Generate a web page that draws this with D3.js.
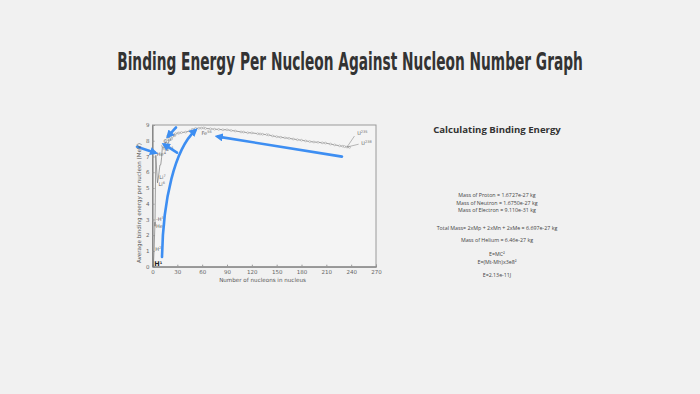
<!DOCTYPE html>
<html>
<head>
<meta charset="UTF-8">
<title>Binding Energy</title>
<script src="https://cdn.jsdelivr.net/npm/d3@7"></script>
<style>
body { margin:0; background:#f1f1f1; }
svg { display:block; }
</style>
</head>
<body>
<div id="chart"></div>
<script>
// mass number and binding energy per nucleon (MeV)
var massNumbers = [1,2,3,3,4,6,7,9,10,11,12,14,16,19,20,23,24,27,28,31,32,35,40,45,48,52,56,59,62,64,70,75,80,85,90,95,100,107,110,115,120,127,130,133,138,140,145,150,155,160,165,170,175,180,185,190,195,200,205,209,215,220,226,230,232,235,238];
var bindingEnergy = [0,1.11,2.83,2.57,7.07,5.33,5.61,6.46,6.48,6.93,7.68,7.48,7.98,7.78,8.03,8.11,8.26,8.33,8.45,8.48,8.49,8.52,8.55,8.62,8.72,8.78,8.79,8.80,8.82,8.78,8.76,8.73,8.72,8.70,8.70,8.65,8.62,8.56,8.55,8.51,8.50,8.45,8.43,8.41,8.39,8.37,8.31,8.26,8.22,8.19,8.15,8.11,8.07,8.03,7.99,7.95,7.92,7.90,7.87,7.85,7.79,7.74,7.68,7.65,7.63,7.60,7.58];

var xTicks = [0,30,60,90,120,150,180,210,240,270];
var yTicks = [0,1,2,3,4,5,6,7,8,9];

// nuclide labels: [A, MeV, base, superscript]
var nuclideLabels = [
    [1, 0.05, 'H', '1'],
    [2, 1.0, 'H', '2'],
    [3, 2.9, '-H', '3'],
    [3, 2.45, 'He', '3'],
    [7, 5.55, 'Li', '7'],
    [6, 5.1, 'Li', '6'],
    [4, 7.05, 'He', '4'],
    [12, 7.85, 'C', '12'],
    [16, 8.2, 'O', '16'],
    [14, 7.35, 'N', '14'],
    [58, 8.35, 'Fe', '56'],
    [246, 8.35, 'U', '235'],
    [251, 7.7, 'U', '238']
];

// arrows in data units: start, (controls), end
var arrows = [
    [[-18.7, 7.62], [3, 7.24]],
    [[28.4, 8.85], [19, 8.3]],
    [[29.6, 7.24], [14.5, 7.75]],
    [[11.5, 0.62], [12.7, 4.3], [27, 7.45], [51.5, 8.65]],
    [[228.9, 6.99], [79, 8.26]]
];

var calcLines = [
    'Mass of Proton = 1.6727e-27 kg',
    'Mass of Neutron = 1.6750e-27 kg',
    'Mass of Electron = 9.110e-31 kg',
    'Total Mass= 2xMp + 2xMn + 2xMe = 6.697e-27 kg',
    'Mass of Helium = 6.46e-27 kg',
    'E=MC\u00b2',
    'E=(Mt-Mh)x3e8\u00b2',
    'E=2.13e-11J'
];
var calcY = [197.3, 205, 212.3, 229.5, 242.3, 256, 263.5, 276.7];

var svg = d3.select('#chart').append('svg')
    .attr('width', 700)
    .attr('height', 394);

svg.append('rect').attr('width', 700).attr('height', 394).attr('fill', '#f1f1f1');

var title = svg.append('text')
    .attr('text-anchor', 'middle')
    .attr('font-family', '"Liberation Sans Narrow", "DejaVu Sans Condensed", sans-serif')
    .attr('font-weight', 'bold')
    .attr('font-size', 25)
    .attr('fill', '#333')
    .text('Binding Energy Per Nucleon Against Nucleon Number Graph');
var tw = title.node().getComputedTextLength();
title.attr('transform', 'translate(350,69.5) scale(' + (466 / tw) + ',1)');

var margin = {top: 125, left: 152.5},
    width = 223.5,
    height = 141.7;

var xScale = d3.scaleLinear().domain([0, 270]).range([0, width]);
var yScale = d3.scaleLinear().domain([0, 9]).range([height, 0]);

var g = svg.append('g')
    .attr('transform', 'translate(' + margin.left + ',' + margin.top + ')');

g.append('rect')
    .attr('width', width).attr('height', height)
    .attr('fill', '#f4f4f4')
    .attr('stroke', '#9a9a9a')
    .attr('stroke-width', 1);

var xAxis = d3.axisBottom(xScale).tickValues(xTicks).tickSize(-2).tickPadding(3);
var yAxis = d3.axisLeft(yScale).tickValues(yTicks).tickSize(-2).tickPadding(3);

g.append('g')
    .attr('class', 'x axis')
    .attr('transform', 'translate(0,' + height + ')')
    .call(xAxis);
g.append('g')
    .attr('class', 'y axis')
    .call(yAxis);

g.selectAll('.axis path').attr('stroke', '#777');
g.selectAll('.axis line').attr('stroke', '#999');
g.selectAll('.axis text')
    .attr('font-family', '"DejaVu Sans", sans-serif')
    .attr('font-size', 5.5)
    .attr('fill', '#666');

svg.append('text')
    .attr('transform', 'translate(141,' + (margin.top + 78) + ') rotate(-90)')
    .attr('text-anchor', 'middle')
    .attr('font-family', '"DejaVu Sans", sans-serif')
    .attr('font-size', 5.6)
    .attr('fill', '#555')
    .text('Average binding energy per nucleon (MeV)');

svg.append('text')
    .attr('x', 262.5).attr('y', 281.5)
    .attr('text-anchor', 'middle')
    .attr('font-family', '"DejaVu Sans", sans-serif')
    .attr('font-size', 5.6)
    .attr('fill', '#555')
    .text('Number of nucleons in nucleus');

// curve
var points = massNumbers.map(function(a, i) { return [a, bindingEnergy[i]]; });
var line = d3.line()
    .x(function(d) { return xScale(d[0]); })
    .y(function(d) { return yScale(d[1]); });

g.append('path')
    .datum(points)
    .attr('d', line)
    .attr('fill', 'none')
    .attr('stroke', '#666')
    .attr('stroke-width', 0.6);

g.selectAll('circle.pt')
    .data(points.filter(function(d) { return d[0] >= 12; }))
    .enter()
    .append('circle')
    .attr('class', 'pt')
    .attr('cx', function(d) { return xScale(d[0]); })
    .attr('cy', function(d) { return yScale(d[1]); })
    .attr('r', 1)
    .attr('fill', '#f4f4f4')
    .attr('stroke', '#999')
    .attr('stroke-width', 0.45);

// uranium leader lines
var uLeaders = [[[235, 7.6], [244, 8.3]], [[235, 7.6], [249, 7.78]]];
uLeaders.forEach(function(l) {
    g.append('path').attr('d', line(l))
        .attr('fill', 'none').attr('stroke', '#777').attr('stroke-width', 0.5);
});

// nuclide labels
var lab = g.selectAll('text.lab')
    .data(nuclideLabels)
    .enter()
    .append('text')
    .attr('class', 'lab')
    .attr('x', function(d) { return xScale(d[0]) + 1; })
    .attr('y', function(d) { return yScale(d[1]); })
    .attr('font-family', '"DejaVu Sans", sans-serif')
    .attr('font-size', function(d) { return d[2] === 'H' && d[3] === '1' ? 6.5 : 5; })
    .attr('font-weight', function(d) { return d[3] === '1' ? 'bold' : 'normal'; })
    .attr('fill', function(d) { return d[3] === '1' ? '#222' : '#666'; });
lab.append('tspan').text(function(d) { return d[2]; });
lab.append('tspan').attr('dy', -2).attr('font-size', 3.5).text(function(d) { return d[3]; });

// blue arrows
var defs = svg.append('defs');
defs.append('marker')
    .attr('id', 'head')
    .attr('viewBox', '0 0 10 10')
    .attr('refX', 6).attr('refY', 5)
    .attr('markerWidth', 3.2).attr('markerHeight', 3.2)
    .attr('orient', 'auto')
    .append('path')
    .attr('d', 'M0,0 L10,5 L0,10 Z')
    .attr('fill', '#3d8ef2');

arrows.forEach(function(a) {
    var p = a.map(function(d) { return [xScale(d[0]), yScale(d[1])]; });
    var d;
    if (p.length === 4) {
        d = 'M' + p[0] + ' C' + p[1] + ' ' + p[2] + ' ' + p[3];
    } else {
        d = 'M' + p[0] + ' L' + p[1];
    }
    g.append('path')
        .attr('d', d)
        .attr('fill', 'none')
        .attr('stroke', '#3d8ef2')
        .attr('stroke-width', 2.6)
        .attr('stroke-linecap', 'round')
        .attr('marker-end', 'url(#head)');
});

// right side text
svg.append('text')
    .attr('x', 497).attr('y', 132.5)
    .attr('text-anchor', 'middle')
    .attr('font-family', '"Open Sans", sans-serif')
    .attr('font-weight', 'bold')
    .attr('font-size', 9.6)
    .attr('fill', '#333')
    .text('Calculating Binding Energy');

svg.selectAll('text.calc')
    .data(calcLines)
    .enter()
    .append('text')
    .attr('class', 'calc')
    .attr('x', 497)
    .attr('y', function(d, i) { return calcY[i]; })
    .attr('text-anchor', 'middle')
    .attr('font-family', '"Open Sans", sans-serif')
    .attr('font-size', 5.3)
    .attr('fill', '#444')
    .text(function(d) { return d; });
</script>
</body>
</html>
